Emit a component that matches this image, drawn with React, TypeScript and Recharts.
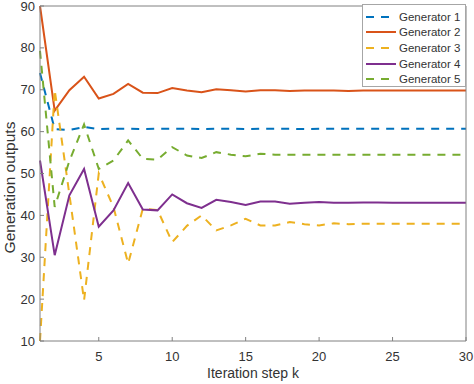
import React from 'react';
import { LineChart, Line, XAxis, YAxis, Legend } from 'recharts';

// iteration steps and generator outputs
const steps = [1, 2, 3, 4, 5, 6, 7, 8, 9, 10, 11, 12, 13, 14, 15, 16, 17, 18, 19, 20, 21, 22, 23, 24, 25, 26, 27, 28, 29, 30];
const gen1 = [74, 60.6, 60.4, 61.1, 60.6, 60.7, 60.7, 60.6, 60.7, 60.7, 60.7, 60.6, 60.7, 60.7, 60.6, 60.7, 60.7, 60.7, 60.6, 60.7, 60.7, 60.7, 60.7, 60.7, 60.7, 60.7, 60.7, 60.7, 60.7, 60.7];
const gen2 = [90, 65, 69.9, 73.1, 67.9, 69, 71.4, 69.3, 69.2, 70.4, 69.8, 69.4, 70.1, 69.9, 69.6, 69.9, 69.9, 69.7, 69.8, 69.8, 69.8, 69.7, 69.8, 69.8, 69.8, 69.8, 69.8, 69.8, 69.8, 69.8];
const gen3 = [10, 70, 45, 19.7, 50, 42, 28.5, 41.6, 41.3, 33.6, 37.5, 40, 36.4, 37.6, 39.2, 37.6, 37.6, 38.4, 37.9, 37.6, 38.1, 37.9, 38, 38, 38, 38, 38, 38, 38, 38];
const gen4 = [53.1, 30.5, 44.8, 51.1, 37.3, 41.2, 47.7, 41.4, 41.2, 45, 42.9, 41.8, 43.7, 43.2, 42.5, 43.3, 43.3, 42.8, 43, 43.2, 43, 43, 43.1, 43.1, 43, 43, 43, 43, 43, 43];
const gen5 = [79.3, 42, 53, 61.7, 51.1, 53.1, 57.9, 53.5, 53.3, 56.3, 54.3, 53.7, 55.1, 54.5, 54.1, 54.7, 54.5, 54.5, 54.5, 54.5, 54.5, 54.5, 54.5, 54.5, 54.5, 54.5, 54.5, 54.5, 54.5, 54.5];

const xTicks = [5, 10, 15, 20, 25, 30];
const yTicks = [10, 20, 30, 40, 50, 60, 70, 80, 90];

const series = [
  { key: 'g1', name: 'Generator 1', color: '#0072BD', dashed: true },
  { key: 'g2', name: 'Generator 2', color: '#D95319', dashed: false },
  { key: 'g3', name: 'Generator 3', color: '#EDB120', dashed: true },
  { key: 'g4', name: 'Generator 4', color: '#7E2F8E', dashed: false },
  { key: 'g5', name: 'Generator 5', color: '#77AC30', dashed: true },
];

const data = steps.map((k, i) => ({ k, g1: gen1[i], g2: gen2[i], g3: gen3[i], g4: gen4[i], g5: gen5[i] }));

const font = '"Liberation Sans", Arial, sans-serif';
const axisColor = '#808080';
const textColor = '#333333';
const dash = '8 7';

const LegendBox = () => (
  <div style={{
    boxSizing: 'border-box', width: 104, height: 83, paddingTop: 4,
    background: 'white', border: '1px solid #a6a6a6',
    fontFamily: font, fontSize: 11.5, color: textColor,
  }}>
    {series.map(s => (
      <div key={s.key} style={{ display: 'flex', alignItems: 'center', height: 15.6 }}>
        <svg width={34} height={10} style={{ flexShrink: 0 }}>
          <line x1={3} x2={33} y1={5} y2={5} stroke={s.color} strokeWidth={2}
            strokeDasharray={s.dashed ? dash : undefined} />
        </svg>
        <span style={{ marginLeft: 2, whiteSpace: 'nowrap' }}>{s.name}</span>
      </div>
    ))}
  </div>
);

// y title sits a little below the axis middle, as in the figure
const YTitle = (props: any) => {
  const vb = props.viewBox;
  const cy = vb.y + vb.height / 2 + 14;
  return (
    <text x={9} y={cy} transform={`rotate(-90, 9, ${cy})`} textAnchor="middle" dominantBaseline="central"
      fontFamily={font} fontSize={15.5} fill={textColor}>
      Generation outputs
    </text>
  );
};

export default function App() {
  const tick = { fontSize: 13, fill: textColor, fontFamily: font };
  return (
    <div style={{ position: 'absolute', left: 0, top: 0, background: 'white' }}>
      <LineChart width={474} height={384} data={data} margin={{ top: 1, right: 0, left: 0, bottom: 0 }}>
        <XAxis dataKey="k" type="number" domain={[1, 30]} ticks={xTicks} interval={0}
          height={43} tick={tick} tickSize={-4} tickMargin={15}
          axisLine={{ stroke: axisColor }} tickLine={{ stroke: axisColor }}
          label={{ value: 'Iteration step k', position: 'insideBottom', offset: 6, fontSize: 14, fill: textColor, fontFamily: font }} />
        <XAxis xAxisId="top" orientation="top" dataKey="k" type="number" domain={[1, 30]} ticks={xTicks} interval={0}
          height={5} tick={false} tickSize={-4}
          axisLine={{ stroke: axisColor }} tickLine={{ stroke: axisColor }} />
        <YAxis type="number" domain={[10, 90]} ticks={yTicks} interval={0}
          width={40} tick={tick} tickSize={-4} tickMargin={9}
          axisLine={{ stroke: axisColor }} tickLine={{ stroke: axisColor }}
          label={YTitle} />
        <YAxis yAxisId="right" orientation="right" type="number" domain={[10, 90]} ticks={yTicks} interval={0}
          width={8} tick={false} tickSize={-4}
          axisLine={{ stroke: axisColor }} tickLine={{ stroke: axisColor }} />
        <Legend layout="vertical" align="center" verticalAlign="middle" content={<LegendBox />}
          wrapperStyle={{ left: 362, top: 4, width: 104, height: 83 }} />
        {series.map(s => (
          <Line key={s.key} type="linear" dataKey={s.key} name={s.name} stroke={s.color} strokeWidth={2}
            strokeDasharray={s.dashed ? dash : undefined} dot={false} activeDot={false}
            isAnimationActive={false} />
        ))}
      </LineChart>
    </div>
  );
}
